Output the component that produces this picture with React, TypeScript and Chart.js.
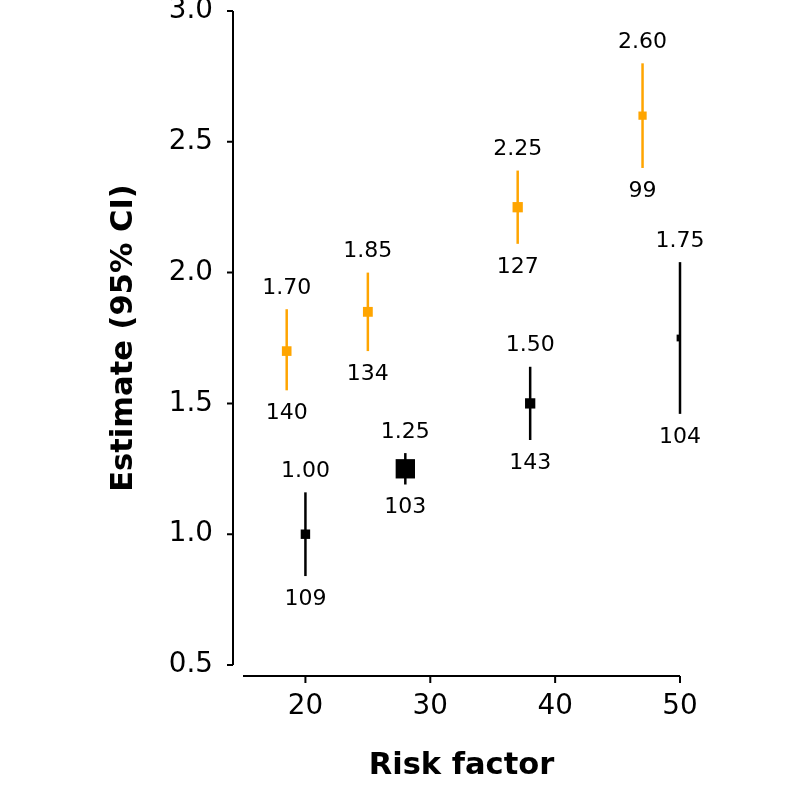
import React, { useEffect, useRef } from "react";
import { Chart, registerables } from "chart.js";

Chart.register(...registerables);

// group drawn in orange
const orangeX = [18.5, 25, 37, 47];
const orangeEst = [1.7, 1.85, 2.25, 2.6];
const orangeLow = [1.55, 1.7, 2.11, 2.4];
const orangeHigh = [1.86, 2.0, 2.39, 2.8];
const orangeN = [140, 134, 127, 99];

// group drawn in black
const blackX = [20, 28, 38, 50];
const blackEst = [1.0, 1.25, 1.5, 1.75];
const blackLow = [0.84, 1.19, 1.36, 1.46];
const blackHigh = [1.16, 1.31, 1.64, 2.04];
const blackN = [109, 103, 143, 104];

const xTicks = [20, 30, 40, 50];
const yTicks = [0.5, 1.0, 1.5, 2.0, 2.5, 3.0];

const FONT = "'DejaVu Sans', sans-serif";

// square side shrinks as the interval widens
const markerSide = (lo: number, hi: number) => 3.5 + 0.95 / ((hi - lo) / 2);

const ciPlugin = {
  id: "ciBars",
  beforeDatasetsDraw(chart: any) {
    const { ctx, scales } = chart;
    chart.data.datasets.forEach((ds: any) => {
      ctx.save();
      ctx.strokeStyle = ds.backgroundColor;
      ctx.lineWidth = 2.5;
      ds.data.forEach((p: any, i: number) => {
        const px = scales.x.getPixelForValue(p.x);
        ctx.beginPath();
        ctx.moveTo(px, scales.y.getPixelForValue(ds.low[i]));
        ctx.lineTo(px, scales.y.getPixelForValue(ds.high[i]));
        ctx.stroke();
      });
      ctx.restore();
    });
  },
  afterDatasetsDraw(chart: any) {
    const { ctx, scales } = chart;
    ctx.save();
    ctx.fillStyle = "#000";
    ctx.font = `22px ${FONT}`;
    ctx.textAlign = "center";
    ctx.textBaseline = "middle";
    chart.data.datasets.forEach((ds: any) => {
      ds.data.forEach((p: any, i: number) => {
        const px = scales.x.getPixelForValue(p.x);
        ctx.fillText(p.y.toFixed(2), px, scales.y.getPixelForValue(ds.high[i]) - 21);
        ctx.fillText(String(ds.counts[i]), px, scales.y.getPixelForValue(ds.low[i]) + 23);
      });
    });
    ctx.restore();
  },
  afterDraw(chart: any) {
    const { ctx, scales, chartArea } = chart;
    const x = scales.x;
    const y = scales.y;
    ctx.save();
    ctx.strokeStyle = "#000";
    ctx.lineWidth = 2;
    // y spine, pushed 10px left of the plot area
    const sx = chartArea.left - 10;
    ctx.beginPath();
    ctx.moveTo(sx, y.getPixelForValue(yTicks[yTicks.length - 1]));
    ctx.lineTo(sx, y.getPixelForValue(yTicks[0]));
    yTicks.forEach((v) => {
      const py = y.getPixelForValue(v);
      ctx.moveTo(sx - 6, py);
      ctx.lineTo(sx, py);
    });
    ctx.stroke();
    // x spine, pushed 11px below the plot area
    const sy = chartArea.bottom + 11;
    ctx.beginPath();
    ctx.moveTo(x.getPixelForValue(x.min), sy);
    ctx.lineTo(x.getPixelForValue(x.max), sy);
    xTicks.forEach((v) => {
      const px = x.getPixelForValue(v);
      ctx.moveTo(px, sy);
      ctx.lineTo(px, sy + 7);
    });
    ctx.stroke();

    ctx.fillStyle = "#000";
    ctx.font = `bold 30.5px ${FONT}`;
    ctx.textAlign = "center";
    ctx.textBaseline = "middle";
    ctx.fillText("Risk factor", (chartArea.left + chartArea.right) / 2, 766);
    ctx.translate(124, (chartArea.top + chartArea.bottom) / 2);
    ctx.rotate(-Math.PI / 2);
    ctx.fillText("Estimate (95% CI)", 0, 0);
    ctx.restore();
  },
};

const makeSet = (xs: number[], est: number[], low: number[], high: number[], counts: number[], color: string) => ({
  data: xs.map((x, i) => ({ x, y: est[i] })),
  low,
  high,
  counts,
  backgroundColor: color,
  borderWidth: 0,
  pointStyle: "rect",
  pointRadius: (c: any) => markerSide(low[c.dataIndex], high[c.dataIndex]) / Math.SQRT2,
  pointHoverRadius: (c: any) => markerSide(low[c.dataIndex], high[c.dataIndex]) / Math.SQRT2,
});

const App: React.FC = () => {
  const canvasRef = useRef<HTMLCanvasElement>(null);
  const chartRef = useRef<Chart | null>(null);

  useEffect(() => {
    document.body.style.margin = "0";
    if (!canvasRef.current) return;
    if (chartRef.current) chartRef.current.destroy();

    chartRef.current = new Chart(canvasRef.current, {
      type: "scatter",
      data: {
        datasets: [
          makeSet(orangeX, orangeEst, orangeLow, orangeHigh, orangeN, "#ffa500"),
          makeSet(blackX, blackEst, blackLow, blackHigh, blackN, "#000000"),
        ] as any,
      },
      options: {
        responsive: false,
        animation: false,
        layout: { autoPadding: false, padding: { left: 0, top: 11, right: 120, bottom: 0 } },
        plugins: { legend: { display: false }, tooltip: { enabled: false } },
        scales: {
          x: {
            type: "linear",
            min: 15,
            max: 50,
            grid: { display: false, drawTicks: false },
            border: { display: false },
            afterBuildTicks: (s: any) => {
              s.ticks = xTicks.map((v) => ({ value: v }));
            },
            afterFit: (s: any) => {
              s.height = 135;
              s.paddingLeft = 0;
              s.paddingRight = 0;
            },
            ticks: {
              padding: 25,
              color: "#000",
              font: { family: FONT, size: 27.8 },
              callback: (v: any) => String(v),
            },
          },
          y: {
            type: "linear",
            min: 0.5,
            max: 3.0,
            grid: { display: false, drawTicks: false },
            border: { display: false },
            afterBuildTicks: (s: any) => {
              s.ticks = yTicks.map((v) => ({ value: v }));
            },
            afterFit: (s: any) => {
              s.width = 243;
              s.paddingTop = 0;
              s.paddingBottom = 0;
            },
            ticks: {
              padding: 30,
              color: "#000",
              font: { family: FONT, size: 27.8 },
              callback: (v: any) => Number(v).toFixed(1),
            },
          },
        },
      },
      plugins: [ciPlugin],
    });

    return () => {
      if (chartRef.current) {
        chartRef.current.destroy();
        chartRef.current = null;
      }
    };
  }, []);

  return (
    <div style={{ width: 800, height: 800 }}>
      <canvas ref={canvasRef} width={800} height={800} />
    </div>
  );
};

export default App;
